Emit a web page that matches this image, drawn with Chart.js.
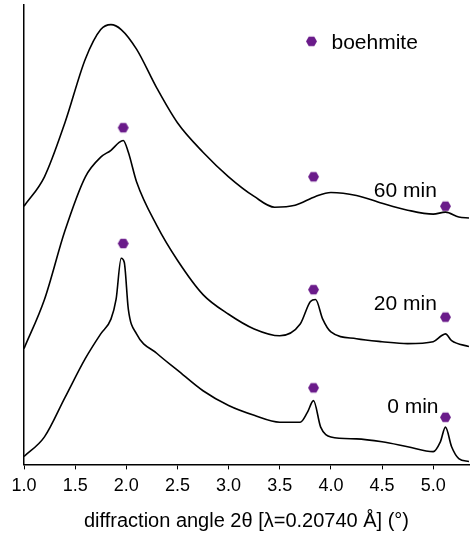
<!DOCTYPE html>
<html lang="en">
<head>
<meta charset="UTF-8">
<title>XRD patterns</title>
<script src="https://cdn.jsdelivr.net/npm/chart.js"></script>
<style>body{margin:0;background:#fff}#wrap{width:474px;height:549px}</style>
</head>
<body>
<div id="wrap"><canvas id="xrd"></canvas></div>
<script>
// curves (y in arbitrary offset intensity units)
const x60 = [1.0,1.2,1.4,1.6,1.75,1.85,1.95,2.1,2.3,2.5,2.75,3.0,3.25,3.45,3.65,3.85,4.0,4.25,4.5,4.75,5.0,5.12,5.25,5.35];
const y60 = [263,293,348,413,443,448,443,423,383,348,318,293,273,262,264,273,277,274,266,259,255,257,252,251];
const x20 = [1.0,1.2,1.4,1.6,1.75,1.85,1.93,1.97,2.02,2.1,2.3,2.5,2.75,3.0,3.25,3.5,3.7,3.8,3.85,3.92,4.0,4.25,4.5,4.75,5.0,5.08,5.12,5.18,5.35];
const y20 = [118,168,238,293,313,320,328,330,318,288,243,208,173,153,138,131,143,166,168,148,135,128,125,123,125,131,133,126,120];
const x0 = [1.0,1.2,1.4,1.6,1.75,1.85,1.9,1.95,1.98,2.02,2.1,2.3,2.5,2.75,3.0,3.25,3.5,3.7,3.77,3.83,3.9,4.0,4.25,4.5,4.75,5.0,5.07,5.12,5.18,5.25,5.35];
const y0 = [8,28,68,108,133,148,168,210,206,158,133,113,96,75,60,50,43,43,53,65,38,28,26,23,18,13,23,38,18,6,3];
// boehmite reflections
const markX = [1.97,3.83,5.12,1.97,3.83,5.12,3.83,5.12];
const markY = [343,293,263,225,178,150,78,48];
const legendX = [3.81], legendY = [431];
const tickValues = [1.0,1.5,2.0,2.5,3.0,3.5,4.0,4.5,5.0];
const curveNames = ['60 min','20 min','0 min'];
const curveLabelX = [4.42,4.42,4.55];
const curveLabelY = [278,163,58];

const toPts = (xs, ys) => xs.map((v, i) => ({x: v, y: ys[i]}));

function hexagon(r, color) {
  const c = document.createElement('canvas');
  c.width = c.height = r * 2 + 2;
  const g = c.getContext('2d');
  g.fillStyle = color;
  g.beginPath();
  for (let i = 0; i < 6; i++) {
    const a = Math.PI / 3 * i;
    const px = r + 1 + r * Math.cos(a), py = r + 1 + r * Math.sin(a);
    i ? g.lineTo(px, py) : g.moveTo(px, py);
  }
  g.closePath();
  g.fill();
  return c;
}
const hex = hexagon(5.5, '#6a1b8a');

const line = (xs, ys) => ({
  type: 'line', data: toPts(xs, ys), borderColor: '#000', borderWidth: 1.6,
  pointRadius: 0, cubicInterpolationMode: 'monotone', fill: false
});

const font = '"Liberation Sans", Arial, sans-serif';
const textPlugin = {
  id: 'texts',
  afterDatasetsDraw(chart) {
    const {ctx, scales: {x, y}} = chart;
    ctx.save();
    ctx.fillStyle = '#000';
    ctx.font = '21px ' + font;
    ctx.textBaseline = 'middle';
    curveNames.forEach((t, i) => ctx.fillText(t, x.getPixelForValue(curveLabelX[i]), y.getPixelForValue(curveLabelY[i])));
    ctx.fillText('boehmite', x.getPixelForValue(legendX[0]) + 20, y.getPixelForValue(legendY[0]) + 2);
    ctx.restore();
  }
};

new Chart(document.getElementById('xrd'), {
  data: {
    datasets: [
      line(x60, y60), line(x20, y20), line(x0, y0),
      {type: 'scatter', data: toPts(markX, markY), pointStyle: hex},
      {type: 'scatter', data: toPts(legendX, legendY), pointStyle: hex}
    ]
  },
  options: {
    responsive: true, maintainAspectRatio: false, animation: false,
    layout: {padding: {left: 16, right: 2, top: 0, bottom: 12}},
    plugins: {legend: {display: false}, tooltip: {enabled: false}},
    scales: {
      x: {
        type: 'linear', min: 1.0, max: 5.35,
        afterBuildTicks: s => { s.ticks = tickValues.map(v => ({value: v})); },
        grid: {drawOnChartArea: false, drawTicks: true, tickLength: 5, color: '#000'},
        border: {color: '#000', width: 1.5},
        ticks: {color: '#000', font: {size: 18, family: font},
          callback: v => v.toFixed(1), maxRotation: 0, padding: 6},
        title: {display: true, text: 'diffraction angle 2θ [λ=0.20740 Å] (°)', color: '#000',
          font: {size: 20, family: font}, padding: {top: 6}}
      },
      y: {
        min: 0, max: 468,
        ticks: {display: false},
        grid: {display: false},
        border: {color: '#000', width: 1.5}
      }
    }
  },
  plugins: [textPlugin]
});
</script>
</body>
</html>
